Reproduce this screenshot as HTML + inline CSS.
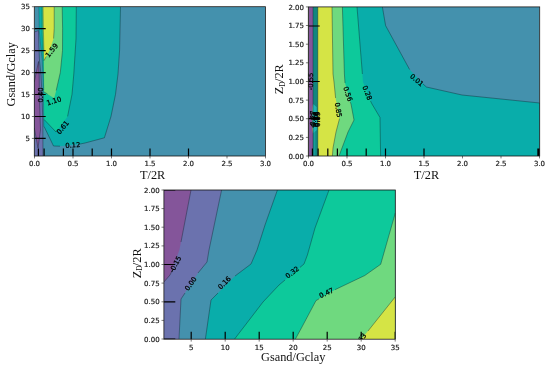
<!DOCTYPE html>
<html><head><meta charset="utf-8"><title>Contour plots</title>
<style>
html,body{margin:0;padding:0;background:#fff;}
body{width:550px;height:369px;overflow:hidden;}
svg{display:block;}
.tk{font-family:"DejaVu Sans",sans-serif;font-size:7px;fill:#222;stroke:#222;stroke-width:0.2px;}
.cl{font-family:"DejaVu Sans",sans-serif;fill:#000;stroke:#000;stroke-width:0.25px;text-anchor:middle;dominant-baseline:central;}
.ax{font-family:"Liberation Serif",serif;font-size:12.3px;fill:#111;}
</style></head><body>
<svg width="550" height="369" viewBox="0 0 550 369">
<rect width="550" height="369" fill="#fff"/>
<clipPath id="c1"><rect x="34.30" y="6.70" width="231.20" height="149.30"/></clipPath>
<g clip-path="url(#c1)">
<rect x="34.30" y="6.70" width="231.20" height="149.30" fill="#4491AD"/>
<polygon points="120.5,6.7 119.6,50.0 118.0,74.0 115.5,94.4 111.0,116.4 104.4,137.8 85.0,143.0 80.0,144.0 60.0,146.2 53.5,146.0 44.1,126.5 43.8,126.5 43.4,90.0 42.3,61.0 40.6,45.0 39.2,30.0 38.8,6.7" fill="#09ADAA"/>
<polygon points="76.3,6.7 76.0,39.0 73.8,74.0 72.0,94.4 67.6,116.4 56.0,132.0 44.1,119.5 43.8,90.0 43.3,61.0 42.4,45.0 41.8,30.0 41.6,6.7" fill="#0DC99B"/>
<polygon points="62.2,6.7 62.6,28.5 62.5,50.5 60.3,72.5 56.2,90.5 54.2,98.3 44.1,92.0 43.8,61.0 43.2,45.0 42.6,30.0 42.4,6.7" fill="#6FD97F"/>
<polygon points="54.2,6.7 54.2,28.5 53.6,38.5 49.6,50.5 44.1,60.5 43.9,50.0 43.4,30.0 43.1,6.7" fill="#D5E445"/>
<polygon points="34.3,32.0 38.5,30.5 38.8,45.0 39.5,61.0 41.0,75.0 42.0,95.0 42.8,120.0 43.0,156.0 34.3,156.0" fill="#6B72AE"/>
<polygon points="38.5,61.5 39.2,76.0 39.3,95.0 40.0,115.0 40.5,130.0 38.0,148.0 34.3,128.0 34.3,82.0 35.5,76.0" fill="#84559A"/>
<polyline points="120.5,6.7 119.6,50.0 118.0,74.0 115.5,94.4 111.0,116.4 104.4,137.8 85.0,143.0 80.0,144.0" stroke="#10202a" stroke-width="0.5" stroke-opacity="0.80" fill="none" stroke-linejoin="round"/>
<polyline points="60.0,146.2 53.5,146.0 44.1,126.5" stroke="#10202a" stroke-width="0.5" stroke-opacity="0.80" fill="none" stroke-linejoin="round"/>
<polyline points="43.8,126.5 43.4,90.0 42.3,61.0 40.6,45.0 39.2,30.0 38.8,6.7" stroke="#10202a" stroke-width="0.5" stroke-opacity="0.45" fill="none" stroke-linejoin="round"/>
<polyline points="76.3,6.7 76.0,39.0 73.8,74.0 72.0,94.4 67.6,116.4" stroke="#10202a" stroke-width="0.5" stroke-opacity="0.80" fill="none" stroke-linejoin="round"/>
<polyline points="57.5,130.0 56.0,132.0 44.1,119.5" stroke="#10202a" stroke-width="0.5" stroke-opacity="0.80" fill="none" stroke-linejoin="round"/>
<polyline points="43.8,90.0 43.3,61.0 42.4,45.0 41.8,30.0 41.6,6.7" stroke="#10202a" stroke-width="0.5" stroke-opacity="0.35" fill="none" stroke-linejoin="round"/>
<polyline points="62.2,6.7 62.6,28.5 62.5,50.5 60.3,72.5 56.2,90.5" stroke="#10202a" stroke-width="0.5" stroke-opacity="0.80" fill="none" stroke-linejoin="round"/>
<polyline points="47.5,94.0 44.1,92.0" stroke="#10202a" stroke-width="0.5" stroke-opacity="0.80" fill="none" stroke-linejoin="round"/>
<polyline points="43.8,61.0 43.2,45.0 42.6,30.0 42.4,6.7" stroke="#10202a" stroke-width="0.5" stroke-opacity="0.35" fill="none" stroke-linejoin="round"/>
<polyline points="54.2,6.7 54.2,28.5 53.6,38.5" stroke="#10202a" stroke-width="0.5" stroke-opacity="0.80" fill="none" stroke-linejoin="round"/>
<polyline points="46.2,56.5 44.1,60.5" stroke="#10202a" stroke-width="0.5" stroke-opacity="0.80" fill="none" stroke-linejoin="round"/>
<polyline points="43.9,50.0 43.4,30.0 43.1,6.7" stroke="#10202a" stroke-width="0.5" stroke-opacity="0.60" fill="none" stroke-linejoin="round"/>
<polyline points="34.3,32.0 38.5,30.5 38.8,45.0 39.5,61.0 41.0,75.0 42.0,95.0 42.8,120.0 43.0,156.0" stroke="#10202a" stroke-width="0.5" stroke-opacity="0.80" fill="none" stroke-linejoin="round"/>
<polyline points="38.5,61.5 39.2,76.0 39.3,95.0 40.0,115.0 40.5,130.0 38.0,148.0 34.3,128.0" stroke="#10202a" stroke-width="0.5" stroke-opacity="0.80" fill="none" stroke-linejoin="round"/>
<polyline points="34.3,82.0 35.5,76.0 38.5,61.5" stroke="#10202a" stroke-width="0.5" stroke-opacity="0.80" fill="none" stroke-linejoin="round"/>
<text x="52.0" y="50.7" transform="rotate(-51 52.0 50.7)" class="cl" font-size="7.0">1.59</text>
<text x="54.0" y="101.3" transform="rotate(-18 54.0 101.3)" class="cl" font-size="6.8">1.10</text>
<text x="63.0" y="127.6" transform="rotate(-50 63.0 127.6)" class="cl" font-size="6.8">0.61</text>
<text x="72.8" y="145.5" transform="rotate(-4 72.8 145.5)" class="cl" font-size="6.8">0.12</text>
<text x="40.9" y="95.0" transform="rotate(-90 40.9 95.0)" class="cl" font-size="6.8">0.40</text>
</g>
<line x1="34.5" y1="156.0" x2="34.5" y2="158.4" stroke="#222" stroke-width="0.6"/>
<text x="34.5" y="165.7" class="tk" text-anchor="middle">0.0</text>
<line x1="73.0" y1="156.0" x2="73.0" y2="158.4" stroke="#222" stroke-width="0.6"/>
<text x="73.0" y="165.7" class="tk" text-anchor="middle">0.5</text>
<line x1="111.5" y1="156.0" x2="111.5" y2="158.4" stroke="#222" stroke-width="0.6"/>
<text x="111.5" y="165.7" class="tk" text-anchor="middle">1.0</text>
<line x1="150.0" y1="156.0" x2="150.0" y2="158.4" stroke="#222" stroke-width="0.6"/>
<text x="150.0" y="165.7" class="tk" text-anchor="middle">1.5</text>
<line x1="188.5" y1="156.0" x2="188.5" y2="158.4" stroke="#222" stroke-width="0.6"/>
<text x="188.5" y="165.7" class="tk" text-anchor="middle">2.0</text>
<line x1="227.0" y1="156.0" x2="227.0" y2="158.4" stroke="#222" stroke-width="0.6"/>
<text x="227.0" y="165.7" class="tk" text-anchor="middle">2.5</text>
<line x1="265.5" y1="156.0" x2="265.5" y2="158.4" stroke="#222" stroke-width="0.6"/>
<text x="265.5" y="165.7" class="tk" text-anchor="middle">3.0</text>
<line x1="31.9" y1="138.4" x2="34.3" y2="138.4" stroke="#222" stroke-width="0.6"/>
<text x="30.0" y="141.0" class="tk" text-anchor="end">5</text>
<line x1="31.9" y1="116.5" x2="34.3" y2="116.5" stroke="#222" stroke-width="0.6"/>
<text x="30.0" y="119.0" class="tk" text-anchor="end">10</text>
<line x1="31.9" y1="94.5" x2="34.3" y2="94.5" stroke="#222" stroke-width="0.6"/>
<text x="30.0" y="97.1" class="tk" text-anchor="end">15</text>
<line x1="31.9" y1="72.6" x2="34.3" y2="72.6" stroke="#222" stroke-width="0.6"/>
<text x="30.0" y="75.1" class="tk" text-anchor="end">20</text>
<line x1="31.9" y1="50.6" x2="34.3" y2="50.6" stroke="#222" stroke-width="0.6"/>
<text x="30.0" y="53.2" class="tk" text-anchor="end">25</text>
<line x1="31.9" y1="28.7" x2="34.3" y2="28.7" stroke="#222" stroke-width="0.6"/>
<text x="30.0" y="31.2" class="tk" text-anchor="end">30</text>
<line x1="31.9" y1="6.7" x2="34.3" y2="6.7" stroke="#222" stroke-width="0.6"/>
<text x="30.0" y="9.2" class="tk" text-anchor="end">35</text>
<g clip-path="url(#c1)">
<line x1="38.4" y1="156.0" x2="38.4" y2="148.5" stroke="#000" stroke-width="1.2"/>
<line x1="44.1" y1="156.0" x2="44.1" y2="148.5" stroke="#000" stroke-width="1.2"/>
<line x1="63.4" y1="156.0" x2="63.4" y2="148.5" stroke="#000" stroke-width="1.2"/>
<line x1="73.0" y1="156.0" x2="73.0" y2="148.5" stroke="#000" stroke-width="1.2"/>
<line x1="92.2" y1="156.0" x2="92.2" y2="148.5" stroke="#000" stroke-width="1.2"/>
<line x1="111.5" y1="156.0" x2="111.5" y2="148.5" stroke="#000" stroke-width="1.2"/>
<line x1="150.0" y1="156.0" x2="150.0" y2="148.5" stroke="#000" stroke-width="1.2"/>
<line x1="188.5" y1="156.0" x2="188.5" y2="148.5" stroke="#000" stroke-width="1.2"/>
<line x1="34.3" y1="138.4" x2="45.7" y2="138.4" stroke="#000" stroke-width="1.2"/>
<line x1="34.3" y1="116.5" x2="45.7" y2="116.5" stroke="#000" stroke-width="1.2"/>
<line x1="34.3" y1="94.5" x2="45.7" y2="94.5" stroke="#000" stroke-width="1.2"/>
<line x1="34.3" y1="72.6" x2="45.7" y2="72.6" stroke="#000" stroke-width="1.2"/>
<line x1="34.3" y1="50.6" x2="45.7" y2="50.6" stroke="#000" stroke-width="1.2"/>
<line x1="34.3" y1="28.7" x2="45.7" y2="28.7" stroke="#000" stroke-width="1.2"/>
</g>
<rect x="34.30" y="6.70" width="231.20" height="149.30" fill="none" stroke="#161616" stroke-width="0.8"/>
<text x="152.7" y="179.3" class="ax" text-anchor="middle">T/2R</text>
<text x="15.0" y="74.3" class="ax" text-anchor="middle" transform="rotate(-90 15.0 74.3)">Gsand/Gclay</text>
<clipPath id="c2"><rect x="308.30" y="6.90" width="231.40" height="149.10"/></clipPath>
<g clip-path="url(#c2)">
<rect x="308.30" y="6.90" width="231.40" height="149.10" fill="#4491AD"/>
<polygon points="382.4,6.9 385.6,25.6 409.6,69.5 426.4,87.0 462.0,95.0 539.7,103.0 539.7,156.0 308.3,156.0 308.3,6.9" fill="#09ADAA"/>
<polygon points="357.0,6.9 362.4,74.0 363.0,82.0 372.0,104.0 380.0,117.5 380.6,156.0 308.3,156.0 308.3,6.9" fill="#0DC99B"/>
<polygon points="342.4,6.9 344.4,74.0 345.0,83.0 351.0,104.0 354.0,120.0 348.0,132.0 342.0,148.0 339.0,156.0 308.3,156.0 308.3,6.9" fill="#6FD97F"/>
<polygon points="332.0,6.9 333.0,74.0 334.0,82.0 335.6,98.0 339.5,118.7 336.0,132.0 333.0,148.0 332.4,156.0 308.3,156.0 308.3,6.9" fill="#D5E445"/>
<rect x="313.00" y="6.90" width="4.80" height="149.10" fill="#12867F"/>
<rect x="313.60" y="128.00" width="1.80" height="28.00" fill="#179C98"/>
<polygon points="313.2,104.0 316.6,107.0 316.8,130.0 313.6,133.0 312.2,126.0 312.2,112.0" fill="#1DB4B2"/>
<rect x="308.30" y="6.90" width="4.70" height="97.10" fill="#84559A"/>
<polygon points="308.3,104.0 313.0,104.0 312.2,112.0 312.2,126.0 313.0,134.0 313.0,156.0 308.3,156.0" fill="#84559A"/>
<polyline points="382.4,6.9 385.6,25.6 409.6,69.5" stroke="#10202a" stroke-width="0.5" stroke-opacity="0.80" fill="none" stroke-linejoin="round"/>
<polyline points="423.0,84.0 426.4,87.0 462.0,95.0 539.7,103.0" stroke="#10202a" stroke-width="0.5" stroke-opacity="0.80" fill="none" stroke-linejoin="round"/>
<polyline points="357.0,6.9 362.4,74.0" stroke="#10202a" stroke-width="0.5" stroke-opacity="0.80" fill="none" stroke-linejoin="round"/>
<polyline points="370.5,101.0 372.0,104.0 380.0,117.5 380.6,156.0" stroke="#10202a" stroke-width="0.5" stroke-opacity="0.80" fill="none" stroke-linejoin="round"/>
<polyline points="342.4,6.9 344.4,74.0 345.0,83.0" stroke="#10202a" stroke-width="0.5" stroke-opacity="0.80" fill="none" stroke-linejoin="round"/>
<polyline points="350.2,102.0 351.0,104.0 354.0,120.0 348.0,132.0 342.0,148.0 339.0,156.0" stroke="#10202a" stroke-width="0.5" stroke-opacity="0.80" fill="none" stroke-linejoin="round"/>
<polyline points="332.0,6.9 333.0,74.0 334.0,82.0 335.6,98.0" stroke="#10202a" stroke-width="0.5" stroke-opacity="0.80" fill="none" stroke-linejoin="round"/>
<polyline points="339.5,118.7 336.0,132.0 333.0,148.0 332.4,156.0" stroke="#10202a" stroke-width="0.5" stroke-opacity="0.80" fill="none" stroke-linejoin="round"/>
<polyline points="313.0,6.9 313.0,156.0" stroke="#10202a" stroke-width="0.5" stroke-opacity="0.80" fill="none" stroke-linejoin="round"/>
<polyline points="317.8,6.9 317.8,156.0" stroke="#10202a" stroke-width="0.5" stroke-opacity="0.80" fill="none" stroke-linejoin="round"/>
<text x="416.5" y="80.4" transform="rotate(40 416.5 80.4)" class="cl" font-size="6.8">0.01</text>
<text x="367.0" y="93.0" transform="rotate(68 367.0 93.0)" class="cl" font-size="6.8">0.28</text>
<text x="347.6" y="94.0" transform="rotate(72 347.6 94.0)" class="cl" font-size="6.8">0.56</text>
<text x="338.0" y="110.0" transform="rotate(80 338.0 110.0)" class="cl" font-size="6.8">0.85</text>
<text x="310.6" y="81.5" transform="rotate(-90 310.6 81.5)" class="cl" font-size="6.8">-0.55</text>
<text x="312.6" y="119.3" transform="rotate(-90 312.6 119.3)" class="cl" font-size="6.8">-0.27</text>
<text x="314.3" y="119.3" transform="rotate(-90 314.3 119.3)" class="cl" font-size="6.8">0.01</text>
<text x="315.8" y="119.3" transform="rotate(-90 315.8 119.3)" class="cl" font-size="6.8">0.28</text>
<text x="317.0" y="119.3" transform="rotate(-90 317.0 119.3)" class="cl" font-size="6.8">0.56</text>
<text x="318.2" y="119.3" transform="rotate(-90 318.2 119.3)" class="cl" font-size="6.8">0.85</text>
</g>
<line x1="308.5" y1="156.0" x2="308.5" y2="158.4" stroke="#222" stroke-width="0.6"/>
<text x="308.5" y="165.7" class="tk" text-anchor="middle">0.0</text>
<line x1="347.0" y1="156.0" x2="347.0" y2="158.4" stroke="#222" stroke-width="0.6"/>
<text x="347.0" y="165.7" class="tk" text-anchor="middle">0.5</text>
<line x1="385.5" y1="156.0" x2="385.5" y2="158.4" stroke="#222" stroke-width="0.6"/>
<text x="385.5" y="165.7" class="tk" text-anchor="middle">1.0</text>
<line x1="424.0" y1="156.0" x2="424.0" y2="158.4" stroke="#222" stroke-width="0.6"/>
<text x="424.0" y="165.7" class="tk" text-anchor="middle">1.5</text>
<line x1="462.5" y1="156.0" x2="462.5" y2="158.4" stroke="#222" stroke-width="0.6"/>
<text x="462.5" y="165.7" class="tk" text-anchor="middle">2.0</text>
<line x1="501.0" y1="156.0" x2="501.0" y2="158.4" stroke="#222" stroke-width="0.6"/>
<text x="501.0" y="165.7" class="tk" text-anchor="middle">2.5</text>
<line x1="539.5" y1="156.0" x2="539.5" y2="158.4" stroke="#222" stroke-width="0.6"/>
<text x="539.5" y="165.7" class="tk" text-anchor="middle">3.0</text>
<line x1="305.9" y1="156.0" x2="308.3" y2="156.0" stroke="#222" stroke-width="0.6"/>
<text x="304.0" y="158.6" class="tk" text-anchor="end">0.00</text>
<line x1="305.9" y1="137.4" x2="308.3" y2="137.4" stroke="#222" stroke-width="0.6"/>
<text x="304.0" y="139.9" class="tk" text-anchor="end">0.25</text>
<line x1="305.9" y1="118.7" x2="308.3" y2="118.7" stroke="#222" stroke-width="0.6"/>
<text x="304.0" y="121.3" class="tk" text-anchor="end">0.50</text>
<line x1="305.9" y1="100.1" x2="308.3" y2="100.1" stroke="#222" stroke-width="0.6"/>
<text x="304.0" y="102.6" class="tk" text-anchor="end">0.75</text>
<line x1="305.9" y1="81.5" x2="308.3" y2="81.5" stroke="#222" stroke-width="0.6"/>
<text x="304.0" y="84.0" class="tk" text-anchor="end">1.00</text>
<line x1="305.9" y1="62.8" x2="308.3" y2="62.8" stroke="#222" stroke-width="0.6"/>
<text x="304.0" y="65.4" class="tk" text-anchor="end">1.25</text>
<line x1="305.9" y1="44.2" x2="308.3" y2="44.2" stroke="#222" stroke-width="0.6"/>
<text x="304.0" y="46.7" class="tk" text-anchor="end">1.50</text>
<line x1="305.9" y1="25.5" x2="308.3" y2="25.5" stroke="#222" stroke-width="0.6"/>
<text x="304.0" y="28.1" class="tk" text-anchor="end">1.75</text>
<line x1="305.9" y1="6.9" x2="308.3" y2="6.9" stroke="#222" stroke-width="0.6"/>
<text x="304.0" y="9.5" class="tk" text-anchor="end">2.00</text>
<g clip-path="url(#c2)">
<line x1="312.4" y1="156.0" x2="312.4" y2="148.5" stroke="#000" stroke-width="1.2"/>
<line x1="318.1" y1="156.0" x2="318.1" y2="148.5" stroke="#000" stroke-width="1.2"/>
<line x1="327.8" y1="156.0" x2="327.8" y2="148.5" stroke="#000" stroke-width="1.2"/>
<line x1="337.4" y1="156.0" x2="337.4" y2="148.5" stroke="#000" stroke-width="1.2"/>
<line x1="347.0" y1="156.0" x2="347.0" y2="148.5" stroke="#000" stroke-width="1.2"/>
<line x1="366.2" y1="156.0" x2="366.2" y2="148.5" stroke="#000" stroke-width="1.2"/>
<line x1="385.5" y1="156.0" x2="385.5" y2="148.5" stroke="#000" stroke-width="1.2"/>
<line x1="424.0" y1="156.0" x2="424.0" y2="148.5" stroke="#000" stroke-width="1.2"/>
<line x1="538.6" y1="156.0" x2="538.6" y2="148.5" stroke="#000" stroke-width="2.6"/>
<line x1="308.3" y1="118.7" x2="319.7" y2="118.7" stroke="#000" stroke-width="1.2"/>
<line x1="308.3" y1="81.5" x2="319.7" y2="81.5" stroke="#000" stroke-width="1.2"/>
<line x1="308.3" y1="26.0" x2="319.7" y2="26.0" stroke="#000" stroke-width="1.2"/>
</g>
<rect x="308.30" y="6.90" width="231.40" height="149.10" fill="none" stroke="#161616" stroke-width="0.8"/>
<text x="426.5" y="179.3" class="ax" text-anchor="middle">T/2R</text>
<text x="283.2" y="79.2" class="ax" text-anchor="middle" transform="rotate(-90 283.2 79.2)">Z<tspan font-size="7.2" dy="1.4">D</tspan><tspan dy="-1.4" dx="-0.6">/2R</tspan></text>
<clipPath id="c3"><rect x="163.90" y="190.00" width="231.40" height="149.20"/></clipPath>
<g clip-path="url(#c3)">
<rect x="163.90" y="190.00" width="231.40" height="149.20" fill="#84559A"/>
<polygon points="191.0,190.0 179.4,250.0 170.0,275.0 163.9,282.0 163.9,339.0 395.3,339.0 395.3,190.0" fill="#6B72AE"/>
<polygon points="221.6,190.0 209.0,250.0 207.0,262.0 198.0,273.0 181.0,299.0 179.0,339.0 395.3,339.0 395.3,190.0" fill="#4491AD"/>
<polygon points="277.4,190.0 265.0,225.0 257.0,250.0 251.0,264.0 235.0,276.0 211.0,300.0 205.4,339.0 395.3,339.0 395.3,190.0" fill="#09ADAA"/>
<polygon points="329.0,190.0 315.0,228.0 307.4,255.0 304.0,264.0 279.0,285.0 263.0,302.0 234.6,339.0 395.3,339.0 395.3,190.0" fill="#0DC99B"/>
<polygon points="395.3,213.0 380.7,264.3 364.8,275.5 335.0,289.7 316.0,300.6 301.0,328.8 295.4,339.0 395.3,339.0" fill="#6FD97F"/>
<polygon points="395.3,296.8 361.5,339.0 395.3,339.0" fill="#D5E445"/>
<polyline points="191.0,190.0 181.0,242.0" stroke="#10202a" stroke-width="0.5" stroke-opacity="0.80" fill="none" stroke-linejoin="round"/>
<polyline points="172.5,270.0 170.0,275.0 163.9,282.0" stroke="#10202a" stroke-width="0.5" stroke-opacity="0.80" fill="none" stroke-linejoin="round"/>
<polyline points="221.6,190.0 209.0,250.0 207.0,262.0 198.0,273.0" stroke="#10202a" stroke-width="0.5" stroke-opacity="0.80" fill="none" stroke-linejoin="round"/>
<polyline points="185.0,293.0 181.0,299.0 179.0,339.0" stroke="#10202a" stroke-width="0.5" stroke-opacity="0.80" fill="none" stroke-linejoin="round"/>
<polyline points="277.4,190.0 265.0,225.0 257.0,250.0 251.0,264.0 235.0,276.0" stroke="#10202a" stroke-width="0.5" stroke-opacity="0.80" fill="none" stroke-linejoin="round"/>
<polyline points="218.0,293.0 211.0,300.0 205.4,339.0" stroke="#10202a" stroke-width="0.5" stroke-opacity="0.80" fill="none" stroke-linejoin="round"/>
<polyline points="329.0,190.0 315.0,228.0 307.4,255.0 304.0,264.0 300.0,267.4" stroke="#10202a" stroke-width="0.5" stroke-opacity="0.80" fill="none" stroke-linejoin="round"/>
<polyline points="285.0,280.0 279.0,285.0 263.0,302.0 234.6,339.0" stroke="#10202a" stroke-width="0.5" stroke-opacity="0.80" fill="none" stroke-linejoin="round"/>
<polyline points="395.3,213.0 380.7,264.3 364.8,275.5 335.0,289.7" stroke="#10202a" stroke-width="0.5" stroke-opacity="0.80" fill="none" stroke-linejoin="round"/>
<polyline points="319.0,298.9 316.0,300.6 301.0,328.8 295.4,339.0" stroke="#10202a" stroke-width="0.5" stroke-opacity="0.80" fill="none" stroke-linejoin="round"/>
<polyline points="395.3,296.8 368.0,331.0" stroke="#10202a" stroke-width="0.5" stroke-opacity="0.80" fill="none" stroke-linejoin="round"/>
<text x="175.6" y="264.4" transform="rotate(-62 175.6 264.4)" class="cl" font-size="6.8">-0.15</text>
<text x="191.0" y="284.0" transform="rotate(-55 191.0 284.0)" class="cl" font-size="6.8">0.00</text>
<text x="224.6" y="283.0" transform="rotate(-45 224.6 283.0)" class="cl" font-size="6.8">0.16</text>
<text x="292.6" y="272.6" transform="rotate(-38 292.6 272.6)" class="cl" font-size="6.8">0.32</text>
<text x="326.6" y="293.2" transform="rotate(-25 326.6 293.2)" class="cl" font-size="6.8">0.47</text>
<text x="360.5" y="340.3" transform="rotate(-52 360.5 340.3)" class="cl" font-size="6.8">0.63</text>
</g>
<line x1="191.2" y1="339.2" x2="191.2" y2="341.6" stroke="#222" stroke-width="0.6"/>
<text x="191.2" y="349.5" class="tk" text-anchor="middle">5</text>
<line x1="225.2" y1="339.2" x2="225.2" y2="341.6" stroke="#222" stroke-width="0.6"/>
<text x="225.2" y="349.5" class="tk" text-anchor="middle">10</text>
<line x1="259.2" y1="339.2" x2="259.2" y2="341.6" stroke="#222" stroke-width="0.6"/>
<text x="259.2" y="349.5" class="tk" text-anchor="middle">15</text>
<line x1="293.2" y1="339.2" x2="293.2" y2="341.6" stroke="#222" stroke-width="0.6"/>
<text x="293.2" y="349.5" class="tk" text-anchor="middle">20</text>
<line x1="327.2" y1="339.2" x2="327.2" y2="341.6" stroke="#222" stroke-width="0.6"/>
<text x="327.2" y="349.5" class="tk" text-anchor="middle">25</text>
<line x1="361.2" y1="339.2" x2="361.2" y2="341.6" stroke="#222" stroke-width="0.6"/>
<text x="361.2" y="349.5" class="tk" text-anchor="middle">30</text>
<line x1="395.2" y1="339.2" x2="395.2" y2="341.6" stroke="#222" stroke-width="0.6"/>
<text x="395.2" y="349.5" class="tk" text-anchor="middle">35</text>
<line x1="161.5" y1="339.0" x2="163.9" y2="339.0" stroke="#222" stroke-width="0.6"/>
<text x="159.6" y="341.6" class="tk" text-anchor="end">0.00</text>
<line x1="161.5" y1="320.4" x2="163.9" y2="320.4" stroke="#222" stroke-width="0.6"/>
<text x="159.6" y="322.9" class="tk" text-anchor="end">0.25</text>
<line x1="161.5" y1="301.8" x2="163.9" y2="301.8" stroke="#222" stroke-width="0.6"/>
<text x="159.6" y="304.3" class="tk" text-anchor="end">0.50</text>
<line x1="161.5" y1="283.1" x2="163.9" y2="283.1" stroke="#222" stroke-width="0.6"/>
<text x="159.6" y="285.7" class="tk" text-anchor="end">0.75</text>
<line x1="161.5" y1="264.5" x2="163.9" y2="264.5" stroke="#222" stroke-width="0.6"/>
<text x="159.6" y="267.1" class="tk" text-anchor="end">1.00</text>
<line x1="161.5" y1="245.9" x2="163.9" y2="245.9" stroke="#222" stroke-width="0.6"/>
<text x="159.6" y="248.4" class="tk" text-anchor="end">1.25</text>
<line x1="161.5" y1="227.2" x2="163.9" y2="227.2" stroke="#222" stroke-width="0.6"/>
<text x="159.6" y="229.8" class="tk" text-anchor="end">1.50</text>
<line x1="161.5" y1="208.6" x2="163.9" y2="208.6" stroke="#222" stroke-width="0.6"/>
<text x="159.6" y="211.2" class="tk" text-anchor="end">1.75</text>
<line x1="161.5" y1="190.0" x2="163.9" y2="190.0" stroke="#222" stroke-width="0.6"/>
<text x="159.6" y="192.6" class="tk" text-anchor="end">2.00</text>
<g clip-path="url(#c3)">
<line x1="191.2" y1="339.2" x2="191.2" y2="331.7" stroke="#000" stroke-width="1.2"/>
<line x1="225.2" y1="339.2" x2="225.2" y2="331.7" stroke="#000" stroke-width="1.2"/>
<line x1="259.2" y1="339.2" x2="259.2" y2="331.7" stroke="#000" stroke-width="1.2"/>
<line x1="293.2" y1="339.2" x2="293.2" y2="331.7" stroke="#000" stroke-width="1.2"/>
<line x1="327.2" y1="339.2" x2="327.2" y2="331.7" stroke="#000" stroke-width="1.2"/>
<line x1="361.2" y1="339.2" x2="361.2" y2="331.7" stroke="#000" stroke-width="1.2"/>
<line x1="395.2" y1="339.2" x2="395.2" y2="331.7" stroke="#000" stroke-width="1.2"/>
<line x1="163.9" y1="339.0" x2="175.3" y2="339.0" stroke="#000" stroke-width="1.2"/>
<line x1="163.9" y1="301.8" x2="175.3" y2="301.8" stroke="#000" stroke-width="1.2"/>
<line x1="163.9" y1="264.5" x2="175.3" y2="264.5" stroke="#000" stroke-width="1.2"/>
<line x1="163.9" y1="190.0" x2="175.3" y2="190.0" stroke="#000" stroke-width="1.2"/>
</g>
<rect x="163.90" y="190.00" width="231.40" height="149.20" fill="none" stroke="#161616" stroke-width="0.8"/>
<text x="293.2" y="361.4" class="ax" text-anchor="middle">Gsand/Gclay</text>
<text x="140.6" y="263.3" class="ax" text-anchor="middle" transform="rotate(-90 140.6 263.3)">Z<tspan font-size="7.2" dy="1.4">D</tspan><tspan dy="-1.4" dx="-0.6">/2R</tspan></text>
</svg>
</body></html>
